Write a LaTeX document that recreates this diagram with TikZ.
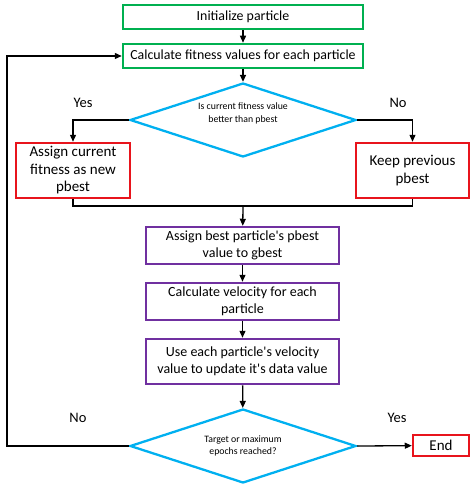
\documentclass[tikz,border=0pt]{standalone}
\usepackage{fontspec}
\setmainfont{Carlito}
\usetikzlibrary{shapes.geometric,arrows.meta}
\definecolor{cgreen}{HTML}{00B050}
\definecolor{ccyan}{HTML}{00B0F0}
\definecolor{cred}{HTML}{E8141C}
\definecolor{cpurple}{HTML}{7030A0}
\tikzset{
  box/.style={rectangle,draw,line width=2.5pt,inner sep=0pt,align=center},
  gbox/.style={box,draw=cgreen,font=\fontsize{13.9}{16}\selectfont},
  rbox/.style={box,draw=cred,font=\fontsize{15}{17.5}\selectfont},
  pbox/.style={box,draw=cpurple,font=\fontsize{14}{17.3}\selectfont},
  dec/.style={diamond,draw=ccyan,line width=2.3pt,inner sep=0pt,minimum width=226pt,minimum height=74pt},
  dtext/.style={font=\fontsize{9.8}{12.8}\selectfont,align=center},
  lab/.style={font=\fontsize{14.5}{16}\selectfont},
  conn/.style={line width=1.3pt,-{Triangle[length=7pt,width=6pt]}},
  plain/.style={line width=1.3pt}
}
\begin{document}
\begin{tikzpicture}[x=1pt,y=-1pt]
\useasboundingbox (0,0) rectangle (474,484);
\node[gbox,minimum width=240pt,minimum height=24pt] (init) at (243,17) {Initialize particle};
\node[gbox,minimum width=240pt,minimum height=24pt] (calc) at (243,56) {Calculate fitness values for each particle};
\node[dec,label={[dtext,yshift=7pt]center:Is current fitness value\\better than pbest}] (d1) at (243,120) {};
\node[rbox,minimum width=114pt,minimum height=55pt] (assign) at (73,170.5) {Assign current\\fitness as new\\pbest};
\node[rbox,minimum width=113pt,minimum height=55pt] (keep) at (412.5,170.5) {Keep previous\\pbest};
\node[pbox,minimum width=193pt,minimum height=37pt] (gb) at (242.5,245.5) {Assign best particle\textquotesingle s pbest\\value to gbest};
\node[pbox,minimum width=193pt,minimum height=37pt] (vel) at (242.5,301.5) {Calculate velocity for each\\particle};
\node[pbox,minimum width=193pt,minimum height=45pt] (upd) at (242.5,361.5) {Use each particle\textquotesingle s velocity\\value to update it\textquotesingle s data value};
\node[dec,label={[dtext]center:Target or maximum\\epochs reached?}] (d2) at (243,446) {};
\node[rbox,minimum width=56pt,minimum height=21pt] (end) at (441,445.5) {End};
\node[lab] (yes1) at (83,103) {Yes};
\node[lab] (no1) at (398,103) {No};
\node[lab] (no2) at (78,418) {No};
\node[lab] (yes2) at (397,418) {Yes};
\coordinate (merge) at (243,206);
\coordinate (loopb) at (7,446);
\coordinate (loopt) at (7,56);
\draw[conn] (init) -- (calc);
\draw[conn] (calc) -- (d1);
\draw[conn] (d1.west) -| (assign.north);
\draw[conn] (d1.east) -| (keep.north);
\draw[plain] (assign.south) |- (merge) -| (keep.south);
\draw[conn] (merge) -- (gb);
\draw[conn] (gb) -- (vel);
\draw[conn] (vel) -- (upd);
\draw[conn] (upd) -- (d2);
\draw[conn] (d2.east) -- (end);
\draw[conn] (d2.west) -- (loopb) -- (loopt) -- (calc.west);
\end{tikzpicture}
\end{document}
